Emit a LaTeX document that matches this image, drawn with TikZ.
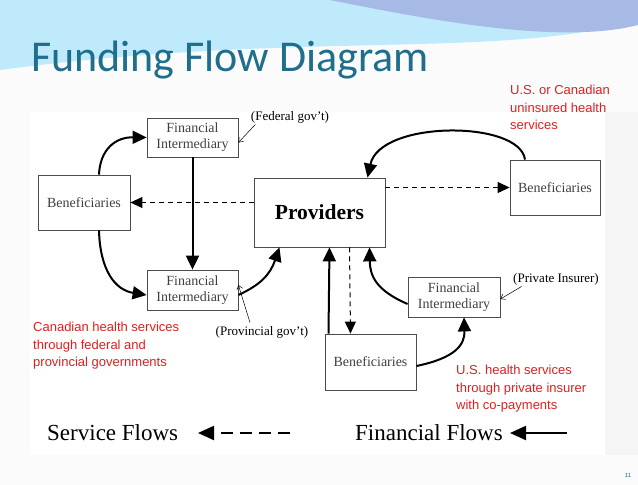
\documentclass[tikz,border=0pt]{standalone}
\usepackage{fontspec}
\setmainfont{Liberation Serif}
\newfontfamily\ssf{Liberation Sans}
\newfontfamily\ttl{Carlito}
\usetikzlibrary{arrows.meta}
\definecolor{teal1}{HTML}{1F6E8C}
\definecolor{red1}{HTML}{E02020}
\begin{document}
\begin{tikzpicture}[x=1pt,y=-1pt,
 box/.style={draw=black!70,fill=white,line width=0.8pt,align=center,text=black!75,font=\fontsize{14}{16}\selectfont,inner sep=0pt},
 big/.style={-{Triangle[length=14pt,width=13pt]},line width=2pt},
 dsh/.style={-{Triangle[length=12pt,width=11pt]},line width=1pt,dash pattern=on 5pt off 4pt},
 thin/.style={-{Straight Barb[length=4pt,width=6pt]},line width=0.5pt},
 lbl/.style={font=\fontsize{13}{14}\selectfont},
 red/.style={text=red1,font=\ssf\fontsize{13}{17.5}\selectfont,align=left,anchor=north west,inner sep=0pt}]
\useasboundingbox (0,0) rectangle (638,485);
\fill[white!97!gray] (0,0) rectangle (638,485);
\fill[cyan!25] (0,0) -- (638,0) -- (638,20) .. controls (500,60) and (300,30) .. (0,70) -- cycle;
\fill[cyan!45!blue!35] (330,0) -- (638,0) -- (638,25) .. controls (560,45) and (430,20) .. (330,0) -- cycle;
\fill[white] (30,112) rectangle (605,455);
\fill[black!4] (605,112) rectangle (638,455);
\node[anchor=west,text=teal1,font=\ttl\fontsize{44}{44}\selectfont,inner sep=0pt] at (31,60) {Funding Flow Diagram};
\node[red] at (510,85) {U.S. or Canadian\\uninsured health\\services};
\node[red] at (33,322) {Canadian health services\\through federal and\\provincial governments};
\node[red] at (456,365) {U.S. health services\\through private insurer\\with co-payments};
% boxes
\node[box,minimum width=91pt,minimum height=39pt] (fit) at (192.5,137.5) {Financial\\Intermediary};
\node[box,minimum width=92pt,minimum height=55pt] (bl) at (84,202.5) {Beneficiaries};
\node[box,minimum width=91pt,minimum height=40pt] (fib) at (192.5,290) {Financial\\Intermediary};
\node[box,minimum width=131pt,minimum height=69pt,text=black,font=\bfseries\fontsize{21.5}{22}\selectfont] (pr) at (319.5,212.5) {Providers};
\node[box,minimum width=90pt,minimum height=55pt] (br) at (555,187.5) {Beneficiaries};
\node[box,minimum width=92pt,minimum height=40pt] (fir) at (454,297) {Financial\\Intermediary};
\node[box,minimum width=91pt,minimum height=56pt] (bb) at (370.5,362) {Beneficiaries};
% labels
\node[lbl] (lf) at (290,117) {(Federal gov't)};
\node[lbl] (lp) at (262,332) {(Provincial gov't)};
\node[lbl] (li) at (556,279) {(Private Insurer)};
\draw[thin] (lf.south west) ++(8,-2) -- ([yshift=-5pt]fit.east);
\draw[thin] (lp.north) ++(-12,0) -- ([yshift=5pt]fib.east);
\draw[thin] (li.south west) ++(12,-2) -- ([yshift=-2pt]fir.east);
% flows
\draw[big] (bl.north) ++(15,0) .. controls (100,150) and (115,137) .. (fit.west);
\draw[big] (bl.south) ++(15,0) .. controls (100,270) and (115,290) .. ([yshift=-5pt]fib.west);
\draw[big] (fit.south) -- (fib.north);
\draw[dsh] (bl.east -| pr.west) -- (bl.east);
\draw[big] ([yshift=-5pt]fib.east) .. controls (260,285) and (270,275) .. ([xshift=-40pt]pr.south);
\draw[big] ([xshift=-30pt]br.north) .. controls (520,120) and (380,120) .. ([xshift=48pt]pr.north);
\draw[dsh] (br.west -| pr.east) -- (br.west);
\draw[big] ([xshift=-42pt]bb.north) -- ([xshift=10pt]pr.south);
\draw[dsh] ([xshift=30pt]pr.south) -- ([xshift=-20pt]bb.north);
\draw[big] ([yshift=-7pt]fir.west) .. controls (375,290) and (370,275) .. ([xshift=50pt]pr.south);
\draw[big] ([yshift=-4pt]bb.east) .. controls (455,358) and (465,345) .. ([xshift=10pt]fir.south);
% legend
\node[anchor=west,font=\fontsize{23}{25}\selectfont,inner sep=0pt] (sf) at (47,433) {Service Flows};
\coordinate (s1) at (290,433);
\draw[-{Triangle[length=16pt,width=14pt]},line width=2.2pt,dash pattern=on 12pt off 7pt] (s1) -- (198,433);
\node[anchor=west,font=\fontsize{23}{25}\selectfont,inner sep=0pt] (ff) at (355,433) {Financial Flows};
\coordinate (f1) at (567,433);
\draw[-{Triangle[length=16pt,width=14pt]},line width=2.2pt] (f1) -- (510,433);
\node[text=teal1,font=\ssf\fontsize{6}{6}\selectfont] (pg) at (628,475) {11};
\end{tikzpicture}
\end{document}
